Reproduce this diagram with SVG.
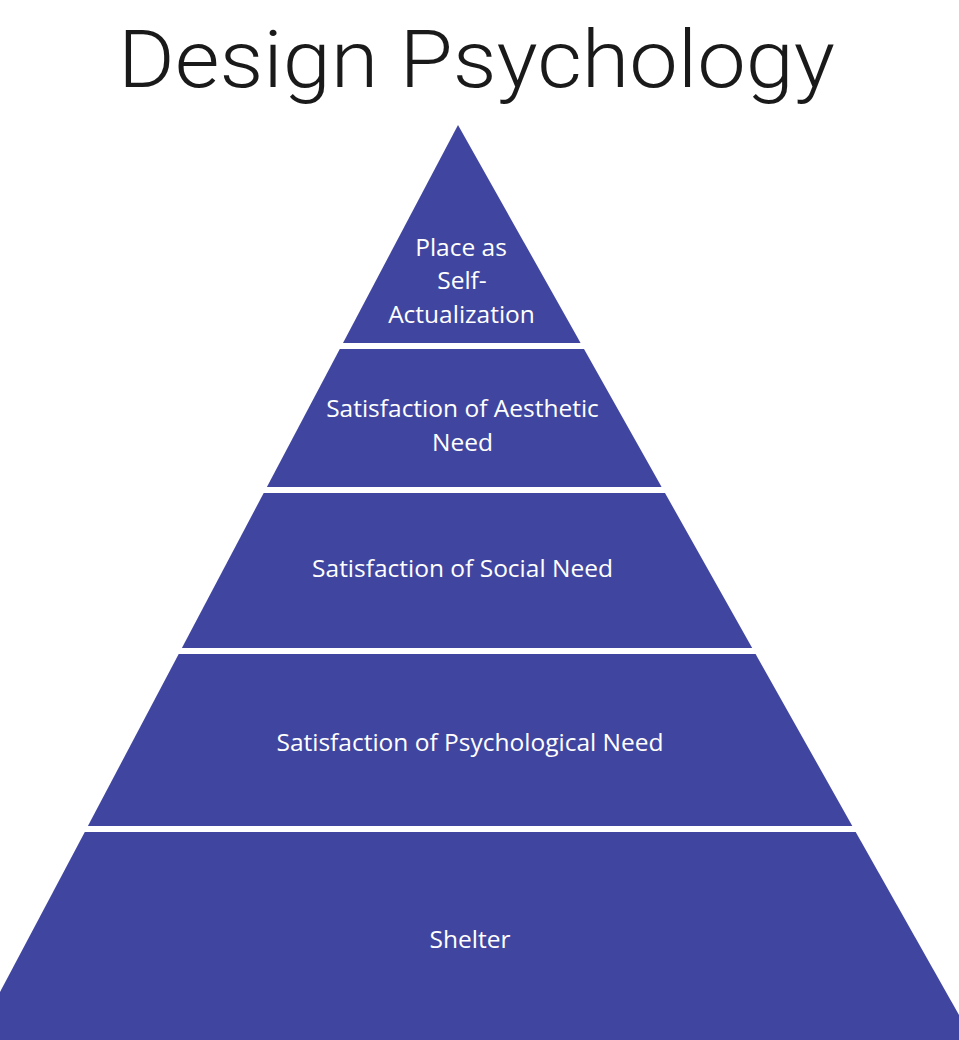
<svg xmlns="http://www.w3.org/2000/svg" width="959" height="1040" viewBox="0 0 959 1040">
<style>
.band{fill:#4046a0;}
.lbl{font-family:"Open Sans","Noto Sans","Liberation Sans",sans-serif;font-size:24.5px;fill:#ffffff;text-anchor:middle;}
.title{font-family:"Roboto","Liberation Sans",sans-serif;font-weight:300;font-size:80px;fill:#1a1a1a;}
</style>
<rect width="959" height="1040" fill="#ffffff"/>
<text class="title" x="118" y="87" textLength="717" lengthAdjust="spacingAndGlyphs">Design Psychology</text>
<g id="level1">
<polygon class="band" points="458,125 580.6,343 343.0,343"/>
<text class="lbl" x="461" y="256">Place as</text>
<text class="lbl" x="462" y="289">Self-</text>
<text class="lbl" x="461.5" y="323">Actualization</text>
</g>
<g id="level2">
<polygon class="band" points="339.8,349 584.0,349 661.6,487 266.9,487"/>
<text class="lbl" x="462.5" y="417">Satisfaction of Aesthetic</text>
<text class="lbl" x="462.5" y="451">Need</text>
</g>
<g id="level3">
<polygon class="band" points="263.7,493 665.0,493 752.2,648 181.9,648"/>
<text class="lbl" x="462.5" y="577">Satisfaction of Social Need</text>
</g>
<g id="level4">
<polygon class="band" points="178.7,654 755.6,654 852.3,826 87.9,826"/>
<text class="lbl" x="470" y="751">Satisfaction of Psychological Need</text>
</g>
<g id="level5">
<polygon class="band" points="84.8,832 855.7,832 959,1015 959,1040 0,1040 0,992"/>
<text class="lbl" x="470" y="948">Shelter</text>
</g>
<g id="connectors"></g>
</svg>
